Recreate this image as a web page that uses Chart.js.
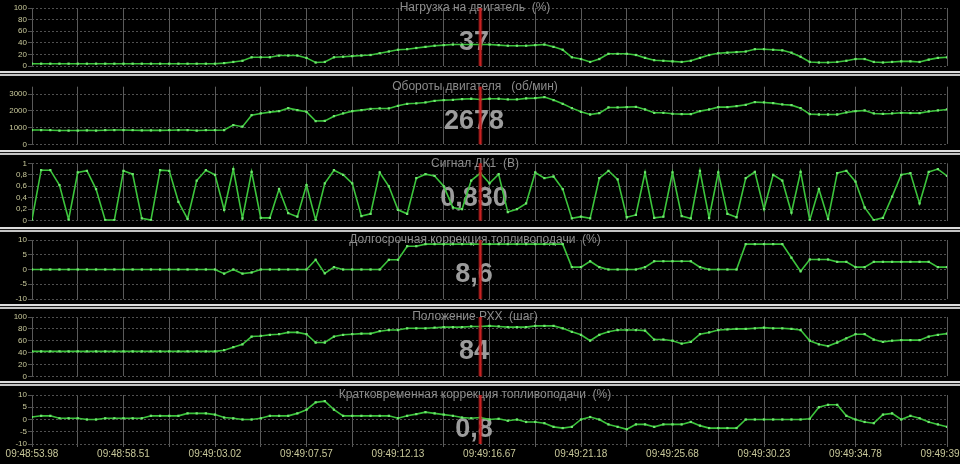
<!DOCTYPE html>
<html><head><meta charset="utf-8">
<script src="https://cdn.jsdelivr.net/npm/chart.js@4/dist/chart.umd.min.js"></script>
<style>
html,body{margin:0;padding:0;background:#000;width:960px;height:464px;overflow:hidden;}
canvas{position:absolute;left:0;}
.sep{position:absolute;left:0;width:960px;height:1px;border-top:2px solid #dcdcdc;border-bottom:2px solid #c4c4c4;background:#1a1a1a;}
</style></head><body>
<script>
// ---- data ----
const timeLabels = ['09:48:53.98','09:48:58.51','09:49:03.02','09:49:07.57','09:49:12.13','09:49:16.67','09:49:21.18','09:49:25.68','09:49:30.23','09:49:34.78','09:49:39.29'];
const cursorIndex = 49;

const engineLoad = [4,4,4,4,4,4,4,4,4,4, 4,4,4,4,4,4,4,4,4,4,
  4,5,7,9,15,15,15,18,18,18, 14,6,7,15,16,17,18,19,22,25,
  28,29,31,33,35,36,37,37,37,37, 37,36,35,35,35,36,37,33,28,15,
  12,7,12,21,21,21,19,14,10,9, 8,7,9,14,19,22,23,24,25,29,
  29,28,27,23,16,7,6,6,7,9, 12,12,7,6,7,8,8,7,11,14, 15];

const engineRpm = [850,850,840,820,820,820,830,820,840,850, 850,840,830,830,830,840,850,850,820,840,
  840,850,1150,1050,1740,1840,1920,1980,2160,2040, 1940,1390,1400,1680,1840,1980,2040,2120,2140,2140,
  2300,2420,2450,2500,2600,2640,2660,2700,2720,2678, 2720,2720,2680,2680,2740,2760,2820,2640,2420,2160,
  1940,1780,1860,2200,2200,2220,2240,2080,1880,1880, 1820,1800,1800,1980,2080,2220,2220,2280,2360,2520,
  2500,2460,2380,2340,2160,1800,1780,1780,1780,1900, 1980,2020,1840,1820,1840,1880,1860,1860,1960,2020, 2080];

const o2Sensor = [0.02,0.88,0.88,0.62,0.02,0.84,0.87,0.55,0.01,0.01, 0.87,0.81,0.04,0.01,0.88,0.87,0.33,0.03,0.70,0.88,
  0.80,0.19,0.90,0.04,0.85,0.05,0.05,0.55,0.13,0.07, 0.62,0.01,0.65,0.88,0.80,0.65,0.08,0.12,0.84,0.60,
  0.19,0.12,0.74,0.81,0.78,0.60,0.23,0.20,0.70,0.83, 0.65,0.81,0.15,0.20,0.30,0.84,0.74,0.77,0.55,0.04,
  0.07,0.04,0.74,0.87,0.72,0.06,0.10,0.84,0.05,0.07, 0.84,0.08,0.04,0.87,0.05,0.84,0.12,0.06,0.74,0.85,
  0.20,0.80,0.70,0.14,0.85,0.01,0.55,0.03,0.83,0.87, 0.68,0.23,0.01,0.05,0.42,0.80,0.83,0.30,0.85,0.90, 0.78];

const longTermTrim = [0,0,0,0,0,0,0,0,0,0, 0,0,0,0,0,0,0,0,0,0,
  0,-1.4,0,-1.4,-1,0,0,0,0,0, 0,3.3,-1.3,0.8,0,0,0,0,0,3.3,
  3.3,7.9,7.9,8.6,8.6,8.6,8.6,8.6,8.6,8.6, 8.6,8.6,8.6,8.6,8.6,8.6,8.6,8.6,8.6,0.8,
  0.8,2.8,0.8,0,0,0,0,0.8,2.8,2.8, 2.8,2.8,2.8,0.8,0,0,0,0,8.6,8.6,
  8.6,8.6,8.6,4,-0.6,3.4,3.4,3.4,2.6,2.6, 0.8,0.8,2.6,2.6,2.6,2.6,2.6,2.6,2.6,0.8, 0.8];

const iacPosition = [42,42,42,42,42,42,42,42,42,42, 42,42,42,42,42,42,42,42,42,42,
  42,44,49,54,67,68,70,71,74,74, 71,57,57,67,70,71,72,72,76,78,
  78,81,81,81,82,83,83,83,84,84, 85,84,83,83,83,85,85,85,81,75,
  70,60,70,75,78,78,78,77,62,62, 60,55,58,71,74,78,79,80,80,81,
  82,81,81,80,78,60,54,51,57,64, 71,71,62,58,60,61,61,61,67,70, 72];

const shortTermTrim = [1,1.5,1.5,0.5,0.5,0.5,0,0,0.5,0.5, 0.5,0.5,0.5,1.5,1.5,1.5,1.5,2.5,2.5,2.5,
  2,0.8,0.5,0,0,0.5,1.5,1.5,1.5,2.5, 4,7,7.5,4,1.5,1.5,1.5,1.5,1.5,1.5,
  0.5,1.5,2.2,3,2.5,2,1.5,0.8,0.5,0.8, 0,0.3,-0.5,0,-1,-1,-1.5,-3,-3.5,-3,
  0,1,0,-2,-3,-4,-2,-2,-3,-2, -2,-2,-1,-2.5,-3.5,-3.5,-3.5,-3.5,0,0,
  0,0,0,0,0,0.3,5,6,6,1.5, 0,-1,-1.5,2,2.5,0,1.5,0.5,-1,-2, -3];

const loadTicks = [0,20,40,60,80,100];
const rpmTicks = [0,1000,2000,3000];
const o2Ticks = [0,0.2,0.4,0.6,0.8,1];
const trimTicks = [-10,-5,0,5,10];
const iacTicks = [0,20,40,60,80,100];

const titles = ['Нагрузка на двигатель  (%)','Обороты двигателя   (об/мин)','Сигнал ДК1  (В)','Долгосрочная коррекция топливоподачи  (%)','Положение РХХ  (шаг)','Кратковременная коррекция топливоподачи  (%)'];
const cursorValues = ['37','2678','0,830','8,6','84','0,8'];

// ---- layout ----
const panels = [
  {data: engineLoad,   ticks: loadTicks, min:0,   max:100,  top:0,   h:71, pt:8,    pb:5},
  {data: engineRpm,    ticks: rpmTicks,  min:0,   max:3440, top:76,  h:74, pt:10.7, pb:5.7},
  {data: o2Sensor,     ticks: o2Ticks,   min:0,   max:1,    top:155, h:72, pt:8.3,  pb:6.3},
  {data: longTermTrim, ticks: trimTicks, min:-10, max:10,   top:232, h:72, pt:8,    pb:5},
  {data: iacPosition,  ticks: iacTicks,  min:0,   max:100,  top:309, h:72, pt:8,    pb:4.7},
  {data: shortTermTrim,ticks: trimTicks, min:-10, max:10,   top:386, h:78, pt:9,    pb:0},
];
const seps = [71,150,227,304,381];
seps.forEach(s=>{const d=document.createElement('div');d.className='sep';d.style.top=s+'px';document.body.appendChild(d);});

const FONT = '"Liberation Sans", Arial, sans-serif';
const overlay = {
  id:'overlay',
  beforeDatasetsDraw(chart, args, o){
    const {ctx, chartArea} = chart;
    ctx.save();
    ctx.textAlign='center'; ctx.textBaseline='middle';
    ctx.font = '12px '+FONT; ctx.fillStyle='#8c8c8c';
    ctx.fillText(o.title, 475, chartArea.top);
    ctx.font = 'bold 27px '+FONT; ctx.fillStyle='#9c9c9c';
    ctx.fillText(o.value, 474, chartArea.top + 35);
    ctx.restore();
  },
  afterDatasetsDraw(chart){
    const {ctx, chartArea, scales:{x}} = chart;
    const px = x.getPixelForValue(cursorIndex);
    ctx.save();
    ctx.strokeStyle='rgba(200,30,30,0.45)'; ctx.lineWidth=4;
    ctx.beginPath(); ctx.moveTo(px, chartArea.top); ctx.lineTo(px, chartArea.bottom); ctx.stroke();
    ctx.strokeStyle='#c82222'; ctx.lineWidth=2;
    ctx.beginPath(); ctx.moveTo(px, chartArea.top); ctx.lineTo(px, chartArea.bottom); ctx.stroke();
    ctx.restore();
  }
};

const fmt = v => { const r = Math.round(v*1000)/1000; return String(r).replace('.', ','); };

panels.forEach((p, k) => {
  const last = k === panels.length-1;
  const c = document.createElement('canvas');
  c.width = 960; c.height = p.h; c.style.top = p.top+'px';
  document.body.appendChild(c);
  new Chart(c, {
    type:'line',
    data:{datasets:[{
      data: p.data.map((v,i)=>({x:i, y:v})),
      borderColor:'#3cc43c', borderWidth:1.6,
      pointStyle:'rect', pointRadius:1.6, pointBackgroundColor:'#6ee86e', pointBorderWidth:0,
      tension:0
    }]},
    options:{
      responsive:false, animation:false, devicePixelRatio:1,
      layout:{padding:{top:p.pt, bottom:p.pb, left:0, right:13}},
      plugins:{legend:{display:false}, tooltip:{enabled:false}, overlay:{title:titles[k], value:cursorValues[k]}},
      scales:{
        x:{type:'linear', min:0, max:100,
          ticks:{display:last, stepSize:5, autoSkip:false, maxRotation:0, padding:1,
            color:'#c8c89a', font:{family:FONT, size:10},
            callback:v => (v%10===0 ? timeLabels[v/10] : '')},
          grid:{color:'#5a5a5a', lineWidth:1, drawTicks:last, tickLength:3},
          border:{display:false},
          afterFit(s){ s.paddingLeft=0; s.paddingRight=0; s.height = last?20:0; }
        },
        y:{min:p.min, max:p.max,
          ticks:{autoSkip:false, padding:1, color:'#c8c89a', font:{family:FONT, size:8}, callback:fmt},
          afterBuildTicks(s){ s.ticks = p.ticks.map(v=>({value:v})); },
          grid:{color:'#505050', lineWidth:1, tickLength:4},
          border:{display:false, dash:[2,2]},
          afterFit(s){ s.width=32; s.paddingTop=0; s.paddingBottom=0; }
        }
      }
    },
    plugins:[overlay]
  });
});
</script>
</body></html>
